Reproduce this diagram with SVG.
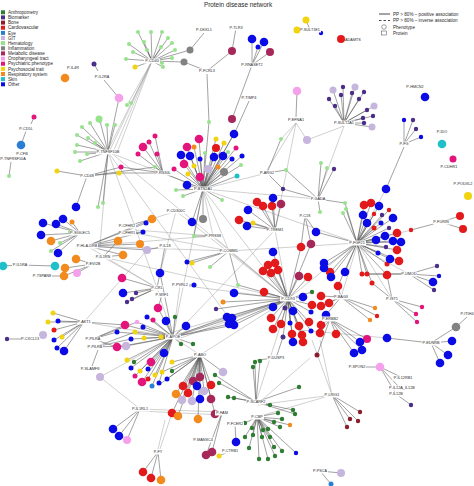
<svg xmlns="http://www.w3.org/2000/svg" width="474" height="486" viewBox="0 0 474 486">
<style>
text{font-family:"Liberation Sans",Arial,sans-serif;fill:#2a2a2a}
.t{font-size:6.4px;text-anchor:middle}
.lg{font-size:4.6px}
.s{fill:none;stroke:#555;stroke-width:.55}
.e{fill:none;stroke:#a0a0a0;stroke-width:.5}
.p rect{fill:#fff}
.p text{font-size:3.8px;text-anchor:middle}
.an{fill:#2e7d32}.bi{fill:#4b2d8a}.bo{fill:#8a1c2c}.cv{fill:#e31a1c}.ey{fill:#2a7fd4}.gi{fill:#c6b6de}.he{fill:#98e28e}.in{fill:#828282}.me{fill:#a6285a}.or{fill:#f4a0ea}.ps{fill:#e3157c}.pt{fill:#f2d30f}.re{fill:#f28a1e}.sk{fill:#1fc0c9}.ot{fill:#0b0be6}
</style>
<rect width="474" height="486" fill="#fff"/>
<text class="t" x="238" y="7">Protein disease network</text>
<g id="legend">
<rect class="an" x="1" y="10.3" width="4" height="4"/><text class="lg" x="8" y="14">Anthropometry</text>
<rect class="bi" x="1" y="15.4" width="4" height="4"/><text class="lg" x="8" y="19.1">Biomarker</text>
<rect class="bo" x="1" y="20.6" width="4" height="4"/><text class="lg" x="8" y="24.3">Bone</text>
<rect class="cv" x="1" y="25.7" width="4" height="4"/><text class="lg" x="8" y="29.4">Cardiovascular</text>
<rect class="ey" x="1" y="30.9" width="4" height="4"/><text class="lg" x="8" y="34.6">Eye</text>
<rect class="gi" x="1" y="36" width="4" height="4"/><text class="lg" x="8" y="39.7">GIT</text>
<rect class="he" x="1" y="41.1" width="4" height="4"/><text class="lg" x="8" y="44.8">Hematology</text>
<rect class="in" x="1" y="46.3" width="4" height="4"/><text class="lg" x="8" y="50">Inflammation</text>
<rect class="me" x="1" y="51.4" width="4" height="4"/><text class="lg" x="8" y="55.1">Metabolic disease</text>
<rect class="or" x="1" y="56.6" width="4" height="4"/><text class="lg" x="8" y="60.3">Oropharyngeal tract</text>
<rect class="ps" x="1" y="61.7" width="4" height="4"/><text class="lg" x="8" y="65.4">Psychiatric phenotype</text>
<rect class="pt" x="1" y="66.9" width="4" height="4"/><text class="lg" x="8" y="70.6">Psychosocial trait</text>
<rect class="re" x="1" y="72" width="4" height="4"/><text class="lg" x="8" y="75.7">Respiratory system</text>
<rect class="sk" x="1" y="77.1" width="4" height="4"/><text class="lg" x="8" y="80.8">Skin</text>
<rect class="ot" x="1" y="82.3" width="4" height="4"/><text class="lg" x="8" y="86">Other</text>
<line x1="379" y1="14" x2="390" y2="14" stroke="#333" stroke-width=".9"/><text class="lg" x="393" y="15.6">PP &gt; 80% – positive association</text>
<line x1="379" y1="20.5" x2="390" y2="20.5" stroke="#333" stroke-width=".9" stroke-dasharray="2.5 2"/><text class="lg" x="393" y="22.1">PP &gt; 80% – inverse association</text>
<circle cx="384" cy="27" r="2.3" fill="#fff" stroke="#444" stroke-width=".5"/><text class="lg" x="393" y="28.6">Phenotype</text>
<rect x="381.5" y="31" width="5" height="4" fill="#fff" stroke="#444" stroke-width=".5"/><text class="lg" x="393" y="34.6">Protein</text>
</g>
<g id="connectors">
<path class="e" d="M152 61 127 105M152 61 131 103M152 61 110 150M152 61 114 150M152 61 118 150M152 61 108 150M296 123 267 170M296 123 307 140M296 123 281 139M296 123 275 230M344 126 318 196M344 126 307 140M386 189 358 240M411 230 360 243M409 274 357 246M341 297 357 246M392 299 360 247M387 338 300 330M332 395 320 340M332 395 312 340M332 395 257 417M332 395 258 405M288 299 175 335M288 299 178 339M288 299 170 333M288 299 110 152M288 299 203 189M288 299 357 243M288 299 176 211M288 299 213 236M288 299 229 251M288 299 180 285M288 299 200 355M173 337 100 377M173 337 84 322M173 337 157 288M173 337 180 285M173 337 203 189M173 337 200 355M140 409 222 412M140 411 222 415M140 409 100 377M158 449 165 420M160 449 172 413M262 400 310 358M256 402 288 302M84 322 147 250M103 257 157 288M87 246 157 288M87 246 213 236M87 246 229 251M103 257 288 299M135 230 213 236M135 233 229 251M203 189 357 243M203 189 318 199M203 189 213 236M203 189 229 251M203 189 267 173M203 189 108 152M108 152 234 325M108 152 100 245M108 152 157 288M229 251 357 243M176 211 152 219M176 211 160 273M275 230 288 299M275 230 173 337"/>
<path id="e-cd40" class="s" d="M152 61 138 32M152 61 151 32M152 61 129 44M152 61 144 42M152 61 133 52M152 61 126 59M152 61 147 50M152 61 162 32M152 61 168 38M152 61 172 43M152 61 161 47M152 61 175 50M152 61 172 58M152 61 162 63M152 61 163 67M152 61 135 67M152 61 190 50M152 61 184 62"/>
<path id="e-top" class="s" d="M190 50 204 33M184 62 207 71M207 71 232 51M236 28 232 51M252 65 252 39M252 65 264 42M252 65 258 47M252 65 270 52M252 65 232 119M249 101 236 130M207 74 209 122M310 30 306 20M310 30 297 30M98 71 94 64M104 80 119 98M119 98 108 150M34 117 31 124M26 131 21 145M11 162 9 176M296 117 297 91"/>
<path id="e-sult2a1" class="s" d="M344 123 333 90M344 123 343 87M344 123 355 87M344 123 352 93M344 123 329 99M344 123 341 95M344 123 364 92M344 123 374 106M344 123 335 106M344 123 359 99M344 123 367 110M344 123 373 116M344 123 363 118M344 123 364 123M344 123 372 127"/>
<path id="e-right" class="s" d="M404 144 404 120M404 144 413 120M404 144 416 129M404 144 421 137M404 147 386 189M441 222 460 216M441 222 463 229M441 222 411 230M409 274 437 266M409 274 439 276M409 274 433 282M409 274 434 290M409 274 362 274M409 274 367 274M341 297 321 296M341 297 329 303M341 297 321 306M341 297 326 315M341 297 375 308M341 297 377 316M341 297 370 320M341 297 338 286M392 299 422 307M392 299 416 314M392 299 417 322M392 299 372 283M392 299 387 275M330 319 321 325M330 319 320 333M330 319 336 334M330 319 317 355M330 319 367 339M330 319 360 342M330 319 362 350M330 319 354 353M431 343 452 341M431 343 448 355M431 343 440 363M431 343 387 338M431 343 456 327M467 317 456 327M380 367 403 378M380 367 400 388M380 367 396 394M396 394 411 405M380 367 357 367M332 395 360 412M332 395 350 419M332 395 358 421M332 395 347 427M320 471 341 473M320 471 331 484"/>
<path id="e-fgf21" class="s" d="M357 243 364 205M357 243 371 203M357 243 379 206M357 243 374 214M357 243 389 210M357 243 363 215M357 243 393 218M357 243 382 215M357 243 367 223M357 243 389 228M357 243 381 223M357 243 374 228M357 243 397 233M357 243 385 236M357 243 376 240M357 243 393 241M357 243 401 242M357 243 386 247M357 243 397 250M357 243 378 253M357 243 390 259M357 243 399 261M357 243 387 264M357 243 387 275M357 243 367 274M357 243 362 274M357 243 372 283M357 243 324 263M357 243 324 268M357 243 331 277M357 243 345 272M357 243 330 272M357 243 338 286M357 243 316 232M357 243 345 203M357 243 346 209M357 243 343 213"/>
<path id="e-mid" class="s" d="M318 199 320 212M318 199 327 168M318 199 321 163M318 199 334 169M318 199 345 203M318 199 283 189M318 199 286 170M267 173 281 139M267 173 286 170M267 173 283 189M275 230 273 198M275 230 281 204M275 230 272 206M275 230 263 206M275 230 257 202M275 230 248 210M275 230 239 220M275 230 247 226M275 230 253 223M305 216 301 247M305 216 311 244M305 216 316 232"/>
<path id="e-cd93" class="s" d="M288 299 263 271M288 299 268 265M288 299 275 263M288 299 271 273M288 299 278 270M288 299 264 292M288 299 273 252M288 299 301 247M288 299 311 244M288 299 299 276M288 299 308 277M288 299 303 297M288 299 312 305M288 299 293 311M288 299 273 307M288 299 271 318M288 299 273 329M288 299 281 324M288 299 299 326M288 299 309 322M288 299 292 334M288 299 302 335M288 299 293 342M288 299 303 342M288 299 290 323M288 299 311 331M288 299 283 337M288 299 312 292M288 299 311 312M288 299 285 308M288 299 227 317M288 299 232 318M288 299 229 324M288 299 234 325M288 299 234 293M288 299 238 285M288 299 223 302M288 299 216 309"/>
<path id="e-apoe" class="s" d="M173 337 160 273M173 337 158 308M173 337 166 321M173 337 186 326M173 337 175 317M173 337 164 353M173 337 193 344M173 337 181 344M173 337 161 337M173 337 125 325M173 337 137 322M173 337 117 347M173 337 126 346M173 337 117 332M173 337 135 332M173 337 144 338M173 337 131 339M173 337 143 327M173 337 153 320M173 337 147 317M173 337 127 360M173 337 134 362M173 337 131 368M173 337 140 371M173 337 135 376M173 337 142 382M173 337 151 362M173 337 148 369M173 337 155 375M173 337 148 379M173 337 152 386M173 337 159 383M173 337 227 317M173 337 232 318M173 337 229 324M173 337 234 325"/>
<path id="e-abo" class="s" d="M200 355 200 377M200 355 193 381M200 355 183 386M200 355 197 386M200 355 211 385M200 355 188 393M200 355 204 391M200 355 176 394M200 355 182 400M200 355 192 401M200 355 200 399M200 355 211 399M200 355 172 413M200 355 178 416M200 355 215 414M200 355 198 419M200 355 223 372M200 355 172 362M200 355 162 372M200 355 172 371M200 355 160 384M200 355 167 379"/>
<path id="e-low" class="s" d="M222 413 212 452M222 413 206 455M230 451 219 456M235 424 236 442M140 409 113 429M140 409 119 436M140 409 127 440M158 452 143 472M158 452 151 478M158 452 161 480M92 366 98 350M276 358 283 337M276 358 257 360M256 402 255 362M256 402 260 361M256 402 253 367M256 402 215 375M256 402 219 383M256 402 228 397M256 402 234 398M256 402 299 387M256 402 293 410M256 402 295 414M256 402 270 405M257 417 278 413M257 417 282 419M257 417 274 422M257 417 280 427M257 417 290 425M257 417 268 429M257 417 263 430M257 417 253 435M257 417 262 437M257 417 270 437M257 417 245 437M257 417 245 423M257 417 252 428M257 417 274 447M257 417 282 451M257 417 249 448M257 417 259 459M257 417 268 459M257 417 275 456M257 417 296 453"/>
<path id="e-left" class="s" d="M84 322 53 313M84 322 48 322M84 322 58 321M84 322 54 330M84 322 62 337M84 322 54 340M84 322 57 348M84 322 64 351M84 322 125 325M38 339 43 335M22 339 7 339M93 339 125 325M93 339 117 332M93 339 117 347M93 339 137 322M95 347 126 346M95 347 131 339M95 347 135 332M157 288 122 278M157 288 123 293M157 288 136 293M157 288 132 299M157 288 127 302M157 288 160 273M87 246 118 241M87 246 140 244M87 246 123 255M87 246 147 250M87 246 152 219M87 246 146 223M87 246 143 232M80 233 43 223M80 233 56 224M80 233 63 219M80 233 41 235M80 233 72 222M80 233 51 241M80 233 70 232M80 233 60 243M80 233 58 253M80 233 51 251M20 265 3 266M20 265 55 266M93 264 76 259M93 264 65 268M93 264 77 273M93 264 64 276M103 257 118 241M103 257 123 255M42 276 64 276M127 226 152 219M127 233 143 232"/>
<path id="e-btn2a1" class="s" d="M203 189 199 139M203 189 216 139M203 189 234 134M203 189 209 122M203 189 187 147M203 189 194 147M203 189 216 148M203 189 224 143M203 189 236 148M203 189 205 153M203 189 228 152M203 189 181 155M203 189 190 156M203 189 200 159M203 189 214 157M203 189 223 156M203 189 232 159M203 189 242 156M203 189 184 164M203 189 194 166M203 189 208 169M203 189 218 167M203 189 224 172M203 189 241 165M203 189 237 176M203 189 200 177M203 189 188 174M203 189 174 169M203 189 187 185M203 189 176 190M203 189 183 196M203 189 203 219M203 189 192 222M203 189 194 236M203 189 222 200M203 189 236 130M203 189 163 173"/>
<path id="e-upleft" class="s" d="M163 173 155 136M163 173 149 142M163 173 143 147M163 173 138 154M163 173 157 154M163 173 155 167M163 173 121 167M163 173 119 173M87 176 57 171M87 176 76 207M87 176 121 167M87 176 119 173M87 176 155 167M108 152 82 127M108 152 90 123M108 152 100 121M108 152 107 125M108 152 115 125M108 152 77 135M108 152 88 138M108 152 77 145M108 152 95 143M108 152 75 152M108 152 87 154M108 152 80 161M108 152 98 207M108 152 103 203M229 251 210 267M229 251 238 285M229 251 187 262M229 251 192 263M165 246 160 273M165 246 147 250M180 285 194 285M162 295 158 308M213 236 194 236"/>
</g>
<g id="phenotypes">
<g id="ph-hematology" class="he"><circle cx="138" cy="32" r="2"/><circle cx="151" cy="32" r="2"/><circle cx="129" cy="44" r="2"/><circle cx="144" cy="42" r="2"/><circle cx="133" cy="52" r="2"/><circle cx="126" cy="59" r="2"/><circle cx="147" cy="50" r="2"/><circle cx="162" cy="32" r="2"/><circle cx="168" cy="38" r="2"/><circle cx="172" cy="43" r="2"/><circle cx="161" cy="47" r="2"/><circle cx="175" cy="50" r="2"/><circle cx="172" cy="58" r="2"/><circle cx="162" cy="63" r="2"/><circle cx="163" cy="67" r="2"/><circle cx="127" cy="105" r="2"/><circle cx="131" cy="103" r="2"/><circle cx="99" cy="119" r="3.5"/><circle cx="209" cy="122" r="2"/><circle cx="82" cy="127" r="2"/><circle cx="90" cy="123" r="2"/><circle cx="100" cy="121" r="2"/><circle cx="107" cy="125" r="2"/><circle cx="115" cy="125" r="2"/><circle cx="77" cy="135" r="2"/><circle cx="88" cy="138" r="2"/><circle cx="77" cy="145" r="2"/><circle cx="95" cy="143" r="2"/><circle cx="75" cy="152" r="2"/><circle cx="87" cy="154" r="2"/><circle cx="80" cy="161" r="2"/><circle cx="98" cy="207" r="2"/><circle cx="103" cy="203" r="2"/><circle cx="9" cy="176" r="2"/><circle cx="205" cy="153" r="2"/><circle cx="228" cy="152" r="2"/><circle cx="241" cy="165" r="2"/><circle cx="176" cy="190" r="2"/><circle cx="183" cy="196" r="2"/><circle cx="194" cy="236" r="2"/><circle cx="222" cy="200" r="2"/><circle cx="155" cy="167" r="2"/><circle cx="281" cy="139" r="2"/><circle cx="286" cy="170" r="2"/><circle cx="345" cy="203" r="2"/><circle cx="346" cy="209" r="2"/><circle cx="343" cy="213" r="2"/><circle cx="320" cy="212" r="2"/><circle cx="327" cy="168" r="2"/><circle cx="321" cy="163" r="2"/><circle cx="70" cy="232" r="2"/><circle cx="60" cy="243" r="2"/><circle cx="51" cy="251" r="2"/><circle cx="210" cy="267" r="2"/><circle cx="238" cy="285" r="2"/></g>
<g id="ph-anthropometry" class="an"><circle cx="255" cy="362" r="2.2"/><circle cx="260" cy="361" r="2.2"/><circle cx="253" cy="367" r="2.2"/><circle cx="215" cy="375" r="2.2"/><circle cx="219" cy="383" r="2.2"/><circle cx="228" cy="397" r="2.2"/><circle cx="234" cy="398" r="2.2"/><circle cx="299" cy="387" r="2.2"/><circle cx="293" cy="410" r="2.2"/><circle cx="295" cy="414" r="2.2"/><circle cx="270" cy="405" r="2.2"/><circle cx="278" cy="413" r="2.2"/><circle cx="282" cy="419" r="2.2"/><circle cx="274" cy="422" r="2.2"/><circle cx="280" cy="427" r="2.2"/><circle cx="268" cy="429" r="2.2"/><circle cx="263" cy="430" r="2.2"/><circle cx="253" cy="435" r="2.2"/><circle cx="262" cy="437" r="2.2"/><circle cx="270" cy="437" r="2.2"/><circle cx="245" cy="437" r="2.2"/><circle cx="245" cy="423" r="2.2"/><circle cx="252" cy="428" r="2.2"/><circle cx="274" cy="447" r="2.2"/><circle cx="282" cy="451" r="2.2"/><circle cx="249" cy="448" r="2.2"/><circle cx="259" cy="459" r="2.2"/><circle cx="268" cy="459" r="2.2"/><circle cx="275" cy="456" r="2.2"/><circle cx="175" cy="317" r="2.2"/><circle cx="193" cy="344" r="2.2"/><circle cx="181" cy="344" r="2.2"/><circle cx="134" cy="362" r="2.2"/><circle cx="172" cy="371" r="2.2"/><circle cx="312" cy="292" r="2.2"/></g>
<g id="ph-biomarker" class="bi"><circle cx="94" cy="64" r="2.5"/><circle cx="343" cy="87" r="2.2"/><circle cx="352" cy="93" r="2.2"/><circle cx="329" cy="99" r="2.2"/><circle cx="341" cy="95" r="2.2"/><circle cx="364" cy="92" r="2.2"/><circle cx="335" cy="106" r="2.2"/><circle cx="359" cy="99" r="2.2"/><circle cx="367" cy="110" r="2.2"/><circle cx="373" cy="116" r="2.2"/><circle cx="363" cy="118" r="2.2"/><circle cx="364" cy="123" r="2.2"/><circle cx="413" cy="120" r="2.2"/><circle cx="416" cy="129" r="2.2"/><circle cx="334" cy="169" r="2.2"/><circle cx="283" cy="189" r="2.2"/><circle cx="382" cy="215" r="2.2"/><circle cx="389" cy="228" r="2.2"/><circle cx="386" cy="247" r="2.2"/><circle cx="437" cy="266" r="2.2"/><circle cx="434" cy="290" r="2.2"/><circle cx="136" cy="293" r="2.2"/><circle cx="132" cy="299" r="2.2"/><circle cx="127" cy="302" r="2.2"/><circle cx="7" cy="339" r="2.2"/><circle cx="411" cy="405" r="2.2"/><circle cx="285" cy="308" r="2.5"/><circle cx="283" cy="337" r="2.5"/><circle cx="216" cy="309" r="2.2"/></g>
<g id="ph-bone" class="bo"><circle cx="360" cy="412" r="2.2"/><circle cx="350" cy="419" r="2.2"/><circle cx="358" cy="421" r="2.2"/><circle cx="347" cy="427" r="2.2"/><circle cx="317" cy="355" r="2.5"/></g>
<g id="ph-cardiovascular" class="cv"><circle cx="341" cy="39" r="4"/><circle cx="216" cy="148" r="4"/><circle cx="460" cy="216" r="4"/><circle cx="463" cy="229" r="4"/><circle cx="411" cy="230" r="2.2"/><circle cx="364" cy="205" r="4.3"/><circle cx="371" cy="203" r="4.3"/><circle cx="374" cy="214" r="2.2"/><circle cx="389" cy="210" r="2.2"/><circle cx="374" cy="228" r="2.5"/><circle cx="397" cy="233" r="4.3"/><circle cx="397" cy="250" r="4.3"/><circle cx="399" cy="261" r="4.3"/><circle cx="387" cy="264" r="2.5"/><circle cx="387" cy="275" r="4.3"/><circle cx="367" cy="274" r="2.5"/><circle cx="362" cy="274" r="2.5"/><circle cx="372" cy="283" r="2.5"/><circle cx="330" cy="272" r="4.3"/><circle cx="338" cy="286" r="4.3"/><circle cx="321" cy="296" r="4.3"/><circle cx="329" cy="303" r="4.3"/><circle cx="321" cy="306" r="4.3"/><circle cx="377" cy="316" r="2.2"/><circle cx="321" cy="325" r="4.3"/><circle cx="320" cy="333" r="4.3"/><circle cx="336" cy="334" r="4.3"/><circle cx="263" cy="271" r="4.3"/><circle cx="268" cy="265" r="4.3"/><circle cx="275" cy="263" r="4.3"/><circle cx="271" cy="273" r="4.3"/><circle cx="278" cy="270" r="4.3"/><circle cx="264" cy="292" r="4.3"/><circle cx="301" cy="247" r="4.3"/><circle cx="308" cy="277" r="4.3"/><circle cx="312" cy="305" r="4.3"/><circle cx="271" cy="318" r="4.3"/><circle cx="273" cy="329" r="4.3"/><circle cx="281" cy="324" r="4.3"/><circle cx="299" cy="326" r="4.3"/><circle cx="309" cy="322" r="4.3"/><circle cx="292" cy="334" r="4.3"/><circle cx="302" cy="335" r="4.3"/><circle cx="303" cy="342" r="4.3"/><circle cx="272" cy="206" r="4.3"/><circle cx="263" cy="206" r="4.3"/><circle cx="257" cy="202" r="4.3"/><circle cx="239" cy="220" r="4.3"/><circle cx="54" cy="330" r="2.5"/><circle cx="148" cy="379" r="2.5"/><circle cx="183" cy="386" r="4.3"/><circle cx="211" cy="385" r="4.3"/><circle cx="188" cy="393" r="4.3"/><circle cx="172" cy="413" r="4.3"/><circle cx="143" cy="472" r="4.3"/><circle cx="151" cy="478" r="4.3"/></g>
<g id="ph-metabolic" class="me"><circle cx="232" cy="51" r="4"/><circle cx="270" cy="52" r="4"/><circle cx="232" cy="119" r="4"/><circle cx="311" cy="244" r="4.3"/><circle cx="299" cy="276" r="4.3"/><circle cx="281" cy="204" r="4.3"/><circle cx="200" cy="377" r="4.3"/><circle cx="193" cy="381" r="4.3"/><circle cx="211" cy="399" r="4.3"/><circle cx="215" cy="414" r="4.3"/><circle cx="206" cy="455" r="4.3"/><circle cx="212" cy="452" r="4.3"/></g>
<g id="ph-eye" class="ey"><circle cx="21" cy="145" r="4.3"/><circle cx="152" cy="386" r="2.5"/><circle cx="331" cy="484" r="2.5"/></g>
<g id="ph-git" class="gi"><circle cx="333" cy="90" r="3.5"/><circle cx="355" cy="87" r="3.5"/><circle cx="374" cy="106" r="3.5"/><circle cx="372" cy="127" r="3.5"/><circle cx="307" cy="140" r="4"/><circle cx="208" cy="169" r="4"/><circle cx="147" cy="250" r="4"/><circle cx="43" cy="335" r="4"/><circle cx="126" cy="346" r="4.3"/><circle cx="100" cy="377" r="4"/><circle cx="204" cy="391" r="4.3"/><circle cx="182" cy="400" r="4.3"/><circle cx="192" cy="401" r="4.3"/><circle cx="223" cy="372" r="4.3"/><circle cx="341" cy="473" r="4"/></g>
<g id="ph-inflammation" class="in"><circle cx="190" cy="50" r="3.5"/><circle cx="184" cy="62" r="3.5"/><circle cx="224" cy="172" r="4"/><circle cx="203" cy="219" r="4"/><circle cx="456" cy="327" r="4.3"/></g>
<g id="ph-oropharyngeal" class="or"><circle cx="119" cy="98" r="4.3"/><circle cx="297" cy="91" r="4.3"/><circle cx="77" cy="273" r="4"/><circle cx="380" cy="367" r="4.3"/><circle cx="127" cy="440" r="4"/><circle cx="137" cy="322" r="2.2"/></g>
<g id="ph-psychiatric" class="ps"><circle cx="34" cy="117" r="2.5"/><circle cx="199" cy="139" r="4.3"/><circle cx="187" cy="147" r="4.3"/><circle cx="236" cy="148" r="2.5"/><circle cx="184" cy="164" r="4.3"/><circle cx="200" cy="177" r="4.3"/><circle cx="174" cy="169" r="2.5"/><circle cx="155" cy="136" r="2.5"/><circle cx="149" cy="142" r="2.5"/><circle cx="143" cy="147" r="4.3"/><circle cx="138" cy="154" r="2.5"/><circle cx="157" cy="154" r="2.5"/><circle cx="121" cy="167" r="2.5"/><circle cx="453" cy="159" r="3.5"/><circle cx="122" cy="278" r="4.3"/><circle cx="125" cy="325" r="4.3"/><circle cx="117" cy="347" r="4.3"/><circle cx="153" cy="320" r="2.5"/><circle cx="135" cy="376" r="2.5"/><circle cx="142" cy="382" r="4.3"/><circle cx="151" cy="362" r="4.3"/><circle cx="158" cy="308" r="4.3"/><circle cx="422" cy="307" r="2.2"/><circle cx="416" cy="314" r="2.2"/><circle cx="417" cy="322" r="2.2"/><circle cx="367" cy="339" r="4"/></g>
<g id="ph-psychosocial" class="pt"><circle cx="135" cy="67" r="2.5"/><circle cx="306" cy="20" r="3.5"/><circle cx="297" cy="30" r="3.5"/><circle cx="216" cy="139" r="2.5"/><circle cx="224" cy="143" r="2.5"/><circle cx="194" cy="166" r="2.5"/><circle cx="188" cy="174" r="2.5"/><circle cx="119" cy="173" r="2.5"/><circle cx="57" cy="171" r="2.5"/><circle cx="468" cy="196" r="4"/><circle cx="253" cy="223" r="2.5"/><circle cx="53" cy="313" r="2.5"/><circle cx="48" cy="322" r="2.5"/><circle cx="62" cy="337" r="2.5"/><circle cx="135" cy="332" r="2.5"/><circle cx="144" cy="338" r="2.5"/><circle cx="127" cy="360" r="2.5"/><circle cx="140" cy="371" r="2.5"/><circle cx="155" cy="375" r="2.5"/><circle cx="172" cy="362" r="2.5"/><circle cx="162" cy="372" r="2.5"/><circle cx="219" cy="456" r="2.5"/><circle cx="161" cy="337" r="2.5"/><circle cx="192" cy="263" r="2.5"/></g>
<g id="ph-respiratory" class="re"><circle cx="65" cy="78" r="4.3"/><circle cx="194" cy="147" r="2.5"/><circle cx="218" cy="167" r="2.5"/><circle cx="72" cy="222" r="2.5"/><circle cx="51" cy="241" r="4.3"/><circle cx="118" cy="241" r="4.3"/><circle cx="140" cy="244" r="4"/><circle cx="123" cy="255" r="4.3"/><circle cx="152" cy="219" r="4.3"/><circle cx="76" cy="259" r="4.3"/><circle cx="65" cy="268" r="4.3"/><circle cx="64" cy="276" r="4.3"/><circle cx="375" cy="308" r="2.2"/><circle cx="370" cy="320" r="2.2"/><circle cx="290" cy="425" r="2.2"/><circle cx="223" cy="302" r="2.5"/><circle cx="176" cy="394" r="4.3"/><circle cx="178" cy="416" r="4.3"/><circle cx="198" cy="419" r="4.3"/><circle cx="161" cy="480" r="4.3"/></g>
<g id="ph-skin" class="sk"><circle cx="237" cy="176" r="2.5"/><circle cx="442" cy="144" r="4.3"/><circle cx="3" cy="266" r="4.3"/><circle cx="55" cy="266" r="4.3"/></g>
<g id="ph-other" class="ot"><circle cx="252" cy="39" r="4.3"/><circle cx="264" cy="42" r="4.3"/><circle cx="258" cy="47" r="2.5"/><circle cx="321" cy="33" r="2.2"/><circle cx="425" cy="97" r="4.3"/><circle cx="404" cy="120" r="2.2"/><circle cx="421" cy="137" r="2.2"/><circle cx="234" cy="134" r="4.3"/><circle cx="181" cy="155" r="4.3"/><circle cx="190" cy="156" r="4.3"/><circle cx="200" cy="159" r="2.5"/><circle cx="214" cy="157" r="4.3"/><circle cx="223" cy="156" r="4.3"/><circle cx="232" cy="159" r="2.5"/><circle cx="242" cy="156" r="2.5"/><circle cx="187" cy="185" r="4.3"/><circle cx="192" cy="222" r="4.3"/><circle cx="76" cy="207" r="4.3"/><circle cx="386" cy="189" r="4.3"/><circle cx="379" cy="206" r="4.3"/><circle cx="363" cy="215" r="4.3"/><circle cx="393" cy="218" r="4.3"/><circle cx="367" cy="223" r="4.3"/><circle cx="381" cy="223" r="2.5"/><circle cx="385" cy="236" r="4.3"/><circle cx="376" cy="240" r="4.3"/><circle cx="393" cy="241" r="4.3"/><circle cx="401" cy="242" r="4.3"/><circle cx="390" cy="259" r="4.3"/><circle cx="378" cy="253" r="2.5"/><circle cx="324" cy="263" r="4.3"/><circle cx="324" cy="268" r="4.3"/><circle cx="331" cy="277" r="4.3"/><circle cx="345" cy="272" r="4.3"/><circle cx="316" cy="232" r="4.3"/><circle cx="439" cy="276" r="2.2"/><circle cx="433" cy="282" r="4.3"/><circle cx="326" cy="315" r="4.3"/><circle cx="360" cy="342" r="4.3"/><circle cx="362" cy="350" r="4.3"/><circle cx="354" cy="353" r="4.3"/><circle cx="387" cy="338" r="4.3"/><circle cx="452" cy="341" r="4.3"/><circle cx="448" cy="355" r="4.3"/><circle cx="440" cy="363" r="4.3"/><circle cx="273" cy="252" r="4.3"/><circle cx="303" cy="297" r="4.3"/><circle cx="293" cy="311" r="4.3"/><circle cx="273" cy="307" r="4.3"/><circle cx="293" cy="342" r="4.3"/><circle cx="290" cy="323" r="2.5"/><circle cx="311" cy="331" r="2.5"/><circle cx="311" cy="312" r="2.5"/><circle cx="227" cy="317" r="4.3"/><circle cx="232" cy="318" r="4.3"/><circle cx="229" cy="324" r="4.3"/><circle cx="234" cy="325" r="4.3"/><circle cx="234" cy="293" r="4.3"/><circle cx="273" cy="198" r="4.3"/><circle cx="248" cy="210" r="4.3"/><circle cx="247" cy="226" r="4.3"/><circle cx="43" cy="223" r="4.3"/><circle cx="56" cy="224" r="4.3"/><circle cx="63" cy="219" r="4.3"/><circle cx="41" cy="235" r="4.3"/><circle cx="58" cy="253" r="4.3"/><circle cx="146" cy="223" r="2.5"/><circle cx="143" cy="232" r="2.5"/><circle cx="123" cy="293" r="4.3"/><circle cx="160" cy="273" r="4.3"/><circle cx="58" cy="321" r="2.5"/><circle cx="54" cy="340" r="2.5"/><circle cx="57" cy="348" r="2.5"/><circle cx="64" cy="351" r="4.3"/><circle cx="117" cy="332" r="2.5"/><circle cx="131" cy="339" r="2.5"/><circle cx="143" cy="327" r="2.5"/><circle cx="147" cy="317" r="2.5"/><circle cx="166" cy="321" r="4.3"/><circle cx="186" cy="326" r="4.3"/><circle cx="164" cy="353" r="4.3"/><circle cx="131" cy="368" r="2.5"/><circle cx="148" cy="369" r="2.5"/><circle cx="159" cy="383" r="2.5"/><circle cx="167" cy="379" r="2.5"/><circle cx="197" cy="386" r="4.3"/><circle cx="200" cy="399" r="4.3"/><circle cx="113" cy="429" r="4.3"/><circle cx="119" cy="436" r="4.3"/><circle cx="236" cy="442" r="4.3"/><circle cx="296" cy="453" r="2.2"/><circle cx="194" cy="285" r="2.5"/><circle cx="187" cy="262" r="2.5"/></g>
</g>
<g id="proteins" class="p">
<g id="p-cd40"><rect x="144" y="58.5" width="16" height="5"/><text x="152" y="62.3">P-CD40</text></g>
<g id="p-dkkl1"><rect x="196" y="27.5" width="17" height="5"/><text x="204" y="31.3">P-DKKL1</text></g>
<g id="p-tlr3"><rect x="229" y="25.5" width="15" height="5"/><text x="236" y="29.3">P-TLR3</text></g>
<g id="p-fcrl3"><rect x="199" y="68.5" width="17" height="5"/><text x="207" y="72.3">P-FCRL3</text></g>
<g id="p-rnaset2"><rect x="241" y="62.5" width="22" height="5"/><text x="252" y="66.3">P-RNASET2</text></g>
<g id="p-sult1e1"><rect x="300" y="27.5" width="21" height="5"/><text x="310" y="31.3">P-SULT1E1</text></g>
<g id="p-adamts"><rect x="346" y="37.5" width="15" height="5"/><text x="353" y="41.3">ADAMTS</text></g>
<g id="p-il4r"><rect x="66" y="65.5" width="14" height="5"/><text x="73" y="69.3">P-IL4R</text></g>
<g id="p-il2ra"><rect x="94" y="74.5" width="17" height="5"/><text x="102" y="78.3">P-IL2RA</text></g>
<g id="p-timp4"><rect x="241" y="95.5" width="17" height="5"/><text x="249" y="99.3">P-TIMP4</text></g>
<g id="p-efna1"><rect x="288" y="117.5" width="17" height="5"/><text x="296" y="121.3">P-EFNA1</text></g>
<g id="p-hmcn2"><rect x="406" y="84.5" width="18" height="5"/><text x="415" y="88.3">P-HMCN2</text></g>
<g id="p-sult2a1"><rect x="333" y="120.5" width="22" height="5"/><text x="344" y="124.3">P-SULT2A1</text></g>
<g id="p-cd5l"><rect x="19" y="126.5" width="15" height="5"/><text x="26" y="130.3">P-CD5L</text></g>
<g id="p-cfb"><rect x="16" y="151.5" width="12" height="5"/><text x="22" y="155.3">P-CFB</text></g>
<g id="p-tnfrsf10a"><rect x="0" y="156.5" width="27" height="5"/><text x="13" y="160.3">P-TNFRSF10A</text></g>
<g id="p-tnfsf10b"><rect x="96" y="149.5" width="24" height="5"/><text x="108" y="153.3">P-TNFSF10B</text></g>
<g id="p-ido"><rect x="436" y="129.5" width="12" height="5"/><text x="442" y="133.3">P-IDO</text></g>
<g id="p-fg"><rect x="398" y="141.5" width="11" height="5"/><text x="404" y="145.3">P-FG</text></g>
<g id="p-cdhr1"><rect x="440" y="164.5" width="18" height="5"/><text x="449" y="168.3">P-CDHR1</text></g>
<g id="p-podxl2"><rect x="453" y="181.5" width="20" height="5"/><text x="463" y="185.3">P-PODXL2</text></g>
<g id="p-cd48"><rect x="80" y="173.5" width="15" height="5"/><text x="87" y="177.3">P-CD48</text></g>
<g id="p-rs30l"><rect x="155" y="170.5" width="17" height="5"/><text x="163" y="174.3">P-RS30L</text></g>
<g id="p-btn2a1"><rect x="193" y="186.5" width="20" height="5"/><text x="203" y="190.3">P-BTN2A1</text></g>
<g id="p-arg2"><rect x="260" y="170.5" width="15" height="5"/><text x="267" y="174.3">P-ARG2</text></g>
<g id="p-cd300c"><rect x="166" y="208.5" width="21" height="5"/><text x="176" y="212.3">P-CD300C</text></g>
<g id="p-gada"><rect x="310" y="196.5" width="16" height="5"/><text x="318" y="200.3">P-GADA</text></g>
<g id="p-trem1"><rect x="267" y="227.5" width="17" height="5"/><text x="275" y="231.3">P-TREM1</text></g>
<g id="p-c1s"><rect x="299" y="213.5" width="12" height="5"/><text x="305" y="217.3">P-C1S</text></g>
<g id="p-fgf21"><rect x="348" y="240.5" width="18" height="5"/><text x="357" y="244.3">P-FGF21</text></g>
<g id="p-prss8"><rect x="205" y="233.5" width="17" height="5"/><text x="213" y="237.3">P-PRSS8</text></g>
<g id="p-commd"><rect x="220" y="248.5" width="19" height="5"/><text x="229" y="252.3">P-COMMD</text></g>
<g id="p-cfhr2"><rect x="119" y="223.5" width="17" height="5"/><text x="127" y="227.3">P-CFHR2</text></g>
<g id="p-cfhr1"><rect x="119" y="230.5" width="17" height="5"/><text x="127" y="234.3">P-CFHR1</text></g>
<g id="p-siglec5"><rect x="70" y="230.5" width="21" height="5"/><text x="80" y="234.3">P-SIGLEC5</text></g>
<g id="p-hla-drb"><rect x="76" y="243.5" width="22" height="5"/><text x="87" y="247.3">P-HLA-DRB</text></g>
<g id="p-il1rn"><rect x="95" y="254.5" width="17" height="5"/><text x="103" y="258.3">P-IL1RN</text></g>
<g id="p-evi2b"><rect x="85" y="261.5" width="17" height="5"/><text x="93" y="265.3">P-EVI2B</text></g>
<g id="p-il5ra"><rect x="12" y="262.5" width="17" height="5"/><text x="20" y="266.3">P-IL5RA</text></g>
<g id="p-tspan8"><rect x="32" y="273.5" width="20" height="5"/><text x="42" y="277.3">P-TSPAN8</text></g>
<g id="p-cr1"><rect x="151" y="285.5" width="12" height="5"/><text x="157" y="289.3">P-CR1</text></g>
<g id="p-il18"><rect x="158" y="243.5" width="14" height="5"/><text x="165" y="247.3">P-IL18</text></g>
<g id="p-pvrl2"><rect x="172" y="282.5" width="17" height="5"/><text x="180" y="286.3">P-PVRL2</text></g>
<g id="p-wif1"><rect x="155" y="292.5" width="14" height="5"/><text x="162" y="296.3">P-WIF1</text></g>
<g id="p-akt1"><rect x="77" y="319.5" width="15" height="5"/><text x="84" y="323.3">P-AKT1</text></g>
<g id="p-cxcl13"><rect x="21" y="336.5" width="19" height="5"/><text x="30" y="340.3">P-CXCL13</text></g>
<g id="p-pilra"><rect x="85" y="336.5" width="16" height="5"/><text x="93" y="340.3">P-PILRA</text></g>
<g id="p-pilrb"><rect x="87" y="344.5" width="16" height="5"/><text x="95" y="348.3">P-PILRB</text></g>
<g id="p-apoe"><rect x="165" y="334.5" width="16" height="5"/><text x="173" y="338.3">P-APOE</text></g>
<g id="p-slamf8"><rect x="80" y="366.5" width="20" height="5"/><text x="90" y="370.3">P-SLAMF8</text></g>
<g id="p-il1rl1"><rect x="131" y="406.5" width="19" height="5"/><text x="140" y="410.3">P-IL1RL1</text></g>
<g id="p-fy"><rect x="152" y="449.5" width="11" height="5"/><text x="158" y="453.3">P-FY</text></g>
<g id="p-abo"><rect x="193" y="352.5" width="14" height="5"/><text x="200" y="356.3">P-ABO</text></g>
<g id="p-dusp3"><rect x="267" y="355.5" width="18" height="5"/><text x="276" y="359.3">P-DUSP3</text></g>
<g id="p-fam"><rect x="215" y="410.5" width="14" height="5"/><text x="222" y="414.3">P-FAM</text></g>
<g id="p-scarf2"><rect x="246" y="399.5" width="20" height="5"/><text x="256" y="403.3">P-SCARF2</text></g>
<g id="p-cbp"><rect x="251" y="414.5" width="13" height="5"/><text x="257" y="418.3">P-CBP</text></g>
<g id="p-fcer2"><rect x="227" y="421.5" width="17" height="5"/><text x="235" y="425.3">P-FCER2</text></g>
<g id="p-mansc4"><rect x="193" y="437.5" width="21" height="5"/><text x="203" y="441.3">P-MANSC4</text></g>
<g id="p-ctrb1"><rect x="222" y="448.5" width="17" height="5"/><text x="230" y="452.3">P-CTRB1</text></g>
<g id="p-cd93"><rect x="280" y="296.5" width="16" height="5"/><text x="288" y="300.3">P-CD93</text></g>
<g id="p-umod"><rect x="401" y="271.5" width="16" height="5"/><text x="409" y="275.3">P-UMOD</text></g>
<g id="p-bag3"><rect x="334" y="294.5" width="15" height="5"/><text x="341" y="298.3">P-BAG3</text></g>
<g id="p-ist1"><rect x="386" y="296.5" width="13" height="5"/><text x="392" y="300.3">P-IST1</text></g>
<g id="p-erbb2"><rect x="322" y="316.5" width="17" height="5"/><text x="330" y="320.3">P-ERBB2</text></g>
<g id="p-ednrb"><rect x="422" y="340.5" width="19" height="5"/><text x="431" y="344.3">P-EDNRB</text></g>
<g id="p-itih4"><rect x="459" y="311.5" width="15" height="5"/><text x="467" y="315.3">P-ITIH4</text></g>
<g id="p-furin"><rect x="433" y="219.5" width="17" height="5"/><text x="441" y="223.3">P-FURIN</text></g>
<g id="p-lrig1"><rect x="324" y="392.5" width="16" height="5"/><text x="332" y="396.3">P-LRIG1</text></g>
<g id="p-spon2"><rect x="348" y="364.5" width="18" height="5"/><text x="357" y="368.3">P-SPON2</text></g>
<g id="p-il12rb1"><rect x="392" y="375.5" width="22" height="5"/><text x="403" y="379.3">P-IL12RB1</text></g>
<g id="p-il12a-il12b"><rect x="387" y="385.5" width="30" height="5"/><text x="402" y="389.3">P-IL12A_IL12B</text></g>
<g id="p-il12b"><rect x="388" y="391.5" width="17" height="5"/><text x="396" y="395.3">P-IL12B</text></g>
<g id="p-psca"><rect x="312" y="468.5" width="16" height="5"/><text x="320" y="472.3">P-PSCA</text></g>
</g>
</svg>
